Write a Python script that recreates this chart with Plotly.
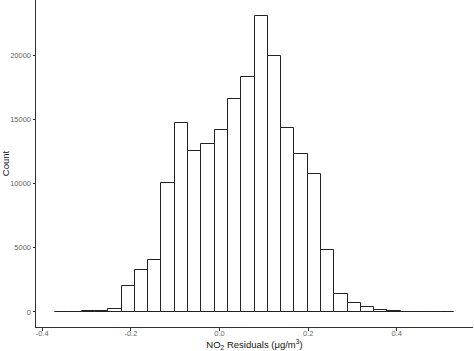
import plotly.graph_objects as go

# Histogram bins (centres, in µg/m3) and counts
bin_centers = [-0.356, -0.326, -0.296, -0.266, -0.236, -0.206, -0.176, -0.146,
               -0.116, -0.086, -0.056, -0.026, 0.004, 0.034, 0.064, 0.094,
               0.124, 0.154, 0.184, 0.214, 0.244, 0.274, 0.304, 0.334,
               0.364, 0.394, 0.424, 0.454, 0.484, 0.514]
counts = [10, 30, 60, 100, 260, 2030, 3250, 4080,
          10050, 14700, 12500, 13090, 14130, 16620, 18260, 23060,
          19920, 14310, 12310, 10730, 4860, 1380, 700, 420,
          180, 80, 30, 15, 8, 5]
bin_width = 0.03

x_ticks = [-0.4, -0.2, 0.0, 0.2, 0.4]
x_tick_labels = ["-0.4", "-0.2", "0.0", "0.2", "0.4"]
y_ticks = [0, 5000, 10000, 15000, 20000]
y_tick_labels = ["0", "5000", "10000", "15000", "20000"]

fig = go.Figure(go.Bar(
    x=bin_centers, y=counts, width=bin_width,
    marker=dict(color="white", line=dict(color="#222222", width=1)),
    hoverinfo="x+y",
))

font_family = "Liberation Sans, Arial, sans-serif"
fig.update_layout(
    width=474, height=351,
    margin=dict(l=36, r=1, t=0, b=24),
    paper_bgcolor="white", plot_bgcolor="white",
    showlegend=False,
    bargap=0,
    font=dict(family=font_family, size=9.5, color="#111111"),
)
fig.update_xaxes(
    range=[-0.414, 0.572],
    tickvals=x_ticks, ticktext=x_tick_labels,
    showgrid=False, zeroline=False,
    showline=True, linecolor="#333333", linewidth=1,
    ticks="outside", ticklen=3, tickcolor="#333333", tickwidth=1,
    ticklabelstandoff=-4,
    tickfont=dict(size=7.5, color="#666666"),
    title=dict(text="NO<sub>2</sub> Residuals (μg/m<sup>3</sup>)", standoff=2,
               font=dict(size=9.5, color="#111111")),
)
fig.update_yaxes(
    range=[-1170, 24290],
    tickvals=y_ticks, ticktext=y_tick_labels,
    showgrid=False, zeroline=False,
    showline=True, linecolor="#333333", linewidth=1,
    ticks="outside", ticklen=2.5, tickcolor="#333333", tickwidth=1,
    tickfont=dict(size=7.5, color="#666666"),
    title=dict(text="Count", standoff=2, font=dict(size=9.5, color="#111111")),
)

fig.write_html("out.html")
